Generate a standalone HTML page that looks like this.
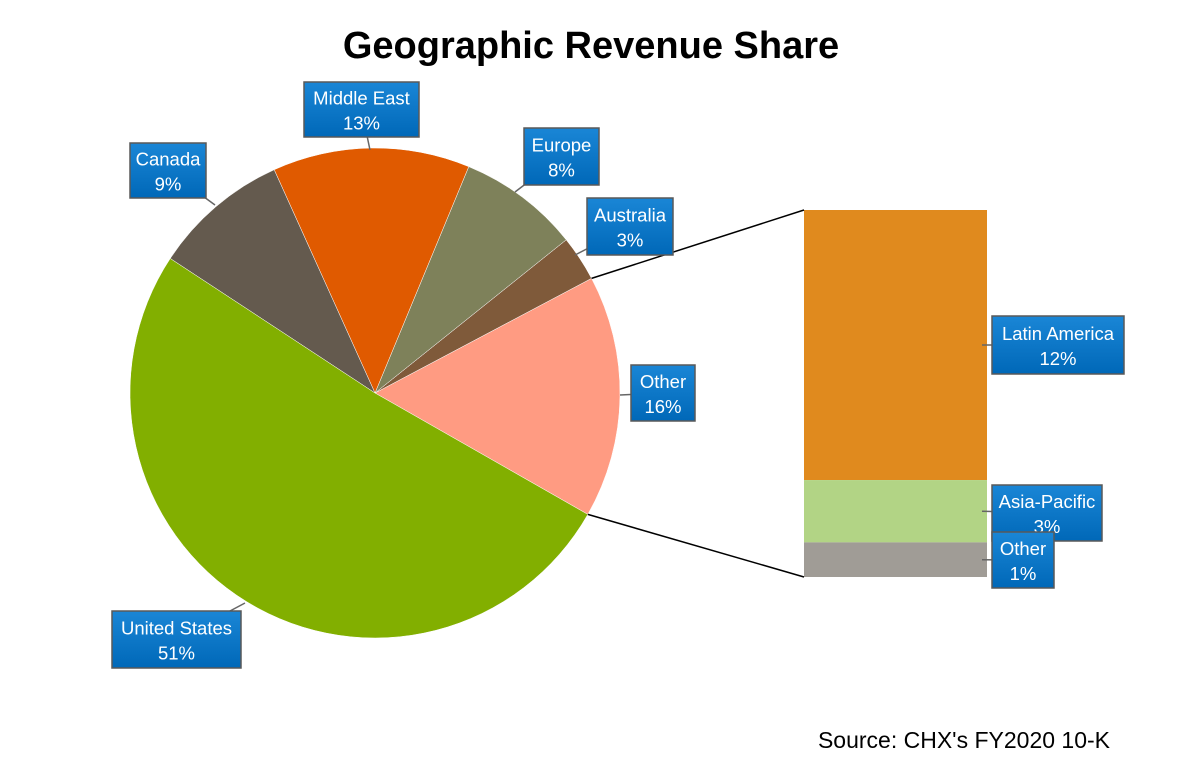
<!DOCTYPE html>
<html><head><meta charset="utf-8"><style>
body{margin:0;background:#fff;width:1179px;height:768px;overflow:hidden;font-family:"Liberation Sans",sans-serif}
svg{display:block}
</style></head><body>
<svg id="chart" width="1179" height="768">
<text x="591" y="58" text-anchor="middle" font-size="38" font-weight="bold" fill="#000">Geographic Revenue Share</text>
<g id="pie"></g>
<g id="bar"></g>
<g id="labels"></g>
<text x="1110" y="748" text-anchor="end" font-size="23" fill="#000">Source: CHX's FY2020 10-K</text>
</svg>
<script>
const pieCategories=["Other","Australia","Europe","Middle East","Canada","United States"];
const pieValues=[16,3,8,13,9,51];
const pieColors=["#FF9B82","#7F5A3A","#7E815A","#E05A00","#645A4E","#82AF00"];
const barCategories=["Latin America","Asia-Pacific","Other"];
const barValues=[11.7,2.7,1.5];
const barLabels=["12%","3%","1%"];
const barColors=["#E08A1E","#B2D485","#A09C96"];
const NS="http://www.w3.org/2000/svg";
const cx=375,cy=393,r=245,startDeg=-29.7;
function mk(t,a,p){const e=document.createElementNS(NS,t);for(const k in a)e.setAttribute(k,a[k]);p.appendChild(e);return e;}
const pie=document.getElementById('pie');
const tot=pieValues.reduce((a,b)=>a+b,0);
let ang=startDeg;
const pt=a=>[cx+r*Math.cos(a*Math.PI/180),cy-r*Math.sin(a*Math.PI/180)];
const bounds=[];
pieValues.forEach((v,i)=>{
 const a0=ang,a1=ang+v/tot*360;ang=a1;bounds.push([a0,a1]);
 const p0=pt(a0),p1=pt(a1);
 const s=mk('path',{d:`M${cx},${cy}L${p0[0]},${p0[1]}A${r},${r} 0 ${a1-a0>180?1:0} 0 ${p1[0]},${p1[1]}Z`,fill:pieColors[i],stroke:'#fff','stroke-width':0.5},pie);
 
 
});
const bar=document.getElementById('bar');
const bx=804,bw=183,btop=210,bh=367;
const btot=barValues.reduce((a,b)=>a+b,0);
let y=btop;const barPos=[];
barValues.forEach((v,i)=>{
 const h=v/btot*bh;
 const rc=mk('rect',{x:bx,y:y,width:bw,height:h,fill:barColors[i]},bar);
 
 
 barPos.push(y+h/2);y+=h;
});
const ob=bounds[0];const pa=pt(ob[1]),pb=pt(ob[0]);
const l1=mk('line',{x1:pa[0],y1:pa[1],x2:bx,y2:btop,stroke:'#000','stroke-width':1.5},bar);

const l2=mk('line',{x1:pb[0],y1:pb[1],x2:bx,y2:btop+bh,stroke:'#000','stroke-width':1.5},bar);

const defs=mk('defs',{},document.getElementById('chart'));
const g=mk('linearGradient',{id:'lg',x1:0,y1:0,x2:0,y2:1},defs);
mk('stop',{offset:0,'stop-color':'#1A86D6'},g);mk('stop',{offset:1,'stop-color':'#0068B8'},g);
const labs=document.getElementById('labels');
const pieLabelBoxes=[[631,365,64,56],[587,198,86,57],[524,128,75,57],[304,82,115,55],[130,143,76,55],[112,611,129,57]];
const pieLeader=[[620,395],[575,255],[515,192],[370,150],[215,205],[245,603]];
function label(x,yy,w,h,name,pct,lead,nm){
 const gg=mk('g',{},labs);
 
 if(lead){mk('line',{x1:x+w/2,y1:yy+h/2,x2:lead[0],y2:lead[1],stroke:'#666','stroke-width':1.5},gg);}
 mk('rect',{x:x,y:yy,width:w,height:h,fill:'url(#lg)',stroke:'#595959','stroke-width':1.5},gg);
 const t1=mk('text',{x:x+w/2,y:yy+h/2-5,'text-anchor':'middle','font-size':18.5,fill:'#fff'},gg);t1.textContent=name;
 const t2=mk('text',{x:x+w/2,y:yy+h/2+20,'text-anchor':'middle','font-size':18.5,fill:'#fff'},gg);t2.textContent=pct;
}
pieCategories.forEach((c,i)=>{const b=pieLabelBoxes[i];label(b[0],b[1],b[2],b[3],c,pieValues[i]+'%',pieLeader[i],'label-'+c.toLowerCase().replace(/ /g,'-'));});
const barBoxes=[[992,316,132,58],[992,485,110,56],[992,532,62,56]];
barCategories.forEach((c,i)=>{const b=barBoxes[i];label(b[0],b[1],b[2],b[3],c,barLabels[i],[bx+bw-5,barPos[i]],'bar-label-'+c.toLowerCase().replace(/ /g,'-'));});
</script>
</body></html>
